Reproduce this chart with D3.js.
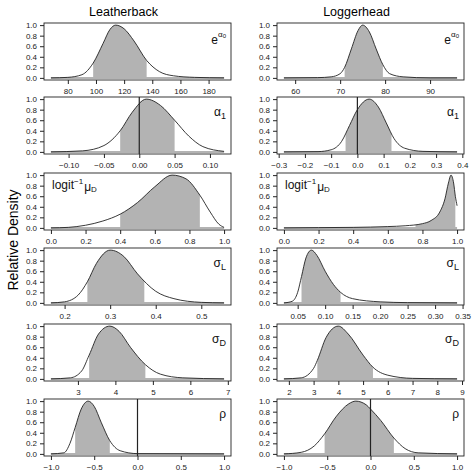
<!DOCTYPE html>
<html><head><meta charset="utf-8">
<script src="https://cdn.jsdelivr.net/npm/d3@7"></script>
<style>body{margin:0;background:#fff}text{font-family:"Liberation Sans",Arial,sans-serif}</style>
</head><body><div id="chart"></div>
<script>
const species = ["Leatherback", "Loggerhead"];
const paramLabels = ["e0", "a1", "mu", "sL", "sD", "rho"];

// density curves [x, relative density]
const lbE0 = [[68,0],[80,0.01],[90,0.06],[98,0.28],[105,0.65],[110,0.92],[114,1],[120,0.93],[127,0.7],[136,0.33],[145,0.12],[155,0.04],[170,0.01],[191,0]];
const lbA1 = [[-0.125,0],[-0.08,0.02],[-0.05,0.12],[-0.027,0.4],[-0.01,0.75],[0.01,1],[0.03,0.88],[0.05,0.6],[0.07,0.3],[0.09,0.1],[0.12,0.01]];
const lbMu = [[0,0],[0.1,0.01],[0.2,0.05],[0.3,0.13],[0.4,0.26],[0.5,0.48],[0.6,0.78],[0.7,1],[0.78,0.93],[0.86,0.62],[0.92,0.3],[0.97,0.07],[1,0.01]];
const lbSL = [[0.17,0],[0.2,0.02],[0.23,0.15],[0.25,0.4],[0.27,0.75],[0.3,1],[0.33,0.88],[0.36,0.55],[0.4,0.22],[0.44,0.08],[0.5,0.01],[0.55,0]];
const lbSD = [[2.28,0],[2.8,0.02],[3.1,0.15],[3.3,0.45],[3.55,0.85],[3.85,1],[4.1,0.9],[4.4,0.6],[4.8,0.27],[5.2,0.09],[5.8,0.02],[6.9,0]];
const lbRho = [[-1,0],[-0.85,0.02],[-0.78,0.2],[-0.72,0.5],[-0.65,0.85],[-0.57,1],[-0.5,0.9],[-0.42,0.6],[-0.32,0.25],[-0.2,0.06],[0,0.005],[1,0]];
const lhE0 = [[57.5,0],[65,0.005],[68,0.02],[70,0.08],[71,0.2],[72.5,0.55],[74,0.9],[75,1],[76.5,0.87],[78,0.55],[79.5,0.25],[81,0.08],[84,0.02],[90,0],[96,0]];
const lhA1 = [[-0.28,0],[-0.15,0.005],[-0.1,0.04],[-0.06,0.2],[-0.03,0.5],[0,0.8],[0.045,1],[0.08,0.85],[0.11,0.55],[0.14,0.25],[0.18,0.07],[0.25,0.01],[0.38,0]];
const lhMu = [[0,0],[0.2,0.005],[0.4,0.01],[0.6,0.025],[0.7,0.04],[0.8,0.08],[0.85,0.14],[0.9,0.3],[0.93,0.55],[0.95,0.85],[0.965,1],[0.98,0.85],[0.99,0.6],[1,0.42]];
const lhSL = [[0.025,0],[0.04,0.03],[0.05,0.2],[0.057,0.5],[0.065,0.85],[0.075,1],[0.085,0.9],[0.1,0.6],[0.115,0.35],[0.128,0.2],[0.15,0.08],[0.2,0.02],[0.25,0.005],[0.34,0]];
const lhSD = [[1.8,0],[2.5,0.02],[3,0.2],[3.15,0.35],[3.5,0.78],[4,1],[4.4,0.85],[5,0.45],[5.4,0.22],[6,0.07],[7,0.01],[8.8,0]];
const lhRho = [[-1,0],[-0.8,0.03],[-0.65,0.15],[-0.53,0.38],[-0.4,0.7],[-0.25,0.95],[-0.17,1],[-0.05,0.93],[0,0.85],[0.12,0.63],[0.27,0.3],[0.4,0.1],[0.55,0.02],[1,0]];

// shaded credible intervals
const lbIntervals = [[98,136],[-0.027,0.05],[0.4,0.86],[0.25,0.375],[3.3,4.8],[-0.72,-0.32]];
const lhIntervals = [[71,79.5],[-0.045,0.13],[0.76,0.99],[0.057,0.128],[3.15,5.4],[-0.53,0.27]];

// x ticks
const lbTicks = [[80,100,120,140,160,180],[-0.10,-0.05,0,0.05,0.10],[0,0.2,0.4,0.6,0.8,1],[0.2,0.3,0.4,0.5],[3,4,5,6,7],[-1,-0.5,0,0.5,1]];
const lhTicks = [[60,70,80,90],[-0.3,-0.2,-0.1,0,0.1,0.2,0.3,0.4],[0,0.2,0.4,0.6,0.8,1],[0.05,0.1,0.15,0.2,0.25,0.3,0.35],[2,3,4,5,6,7,8,9],[-1,-0.5,0,0.5,1]];
const tickFormats = [[d3.format("d"),d3.format(".2f"),d3.format(".1f"),d3.format(".1f"),d3.format("d"),d3.format(".1f")],
                     [d3.format("d"),d3.format(".1f"),d3.format(".1f"),d3.format(".2f"),d3.format("d"),d3.format(".1f")]];
const zeroLine = [false,true,false,false,false,true];
const yTicks = [0,0.2,0.4,0.6,0.8,1];

const curves = [[lbE0,lbA1,lbMu,lbSL,lbSD,lbRho],[lhE0,lhA1,lhMu,lhSL,lhSD,lhRho]];
const intervals = [lbIntervals, lhIntervals];
const ticks = [lbTicks, lhTicks];

const svg = d3.select("#chart").append("svg").attr("width",474).attr("height",474);
const colX = [44, 277], colW = [187, 187];
const rowY = [23, 97, 173, 248, 324, 399], rowH = 57;

svg.append("text").attr("transform","translate(18,240) rotate(-90)")
  .attr("text-anchor","middle").attr("font-size",14).text("Relative Density");

species.forEach((sp, c) => {
  svg.append("text").attr("x", colX[c]+colW[c]/2 - 14).attr("y", 16)
    .attr("text-anchor","middle").attr("font-size",12.5).text(sp);

  curves[c].forEach((data, r) => {
    const g = svg.append("g").attr("transform", `translate(${colX[c]},${rowY[r]})`);
    const ext = d3.extent(data, d => d[0]);
    const pad = (ext[1]-ext[0])*0.04;
    const x = d3.scaleLinear().domain([ext[0]-pad, ext[1]+pad]).range([0, colW[c]]);
    const y = d3.scaleLinear().domain([-0.04, 1.04]).range([rowH, 0]);
    const id = `clip${c}${r}`;
    const iv = intervals[c][r];
    g.append("clipPath").attr("id", id).append("rect")
      .attr("x", x(iv[0])).attr("width", x(iv[1])-x(iv[0])).attr("y",0).attr("height",rowH);
    const area = d3.area().x(d=>x(d[0])).y0(y(0)).y1(d=>y(d[1])).curve(d3.curveMonotoneX);
    const line = d3.line().x(d=>x(d[0])).y(d=>y(d[1])).curve(d3.curveMonotoneX);
    g.append("path").datum(data).attr("d", area).attr("fill","#b3b3b3").attr("clip-path",`url(#${id})`);
    g.append("line").attr("x1",x(ext[0])).attr("x2",x(ext[1])).attr("y1",y(0)).attr("y2",y(0))
      .attr("stroke","#b3b3b3").attr("stroke-width",2);
    g.append("path").datum(data).attr("d", line).attr("fill","none").attr("stroke","#222").attr("stroke-width",0.9);
    if (zeroLine[r]) g.append("line").attr("x1",x(0)).attr("x2",x(0)).attr("y1",0).attr("y2",rowH)
      .attr("stroke","#222").attr("stroke-width",1.2);
    g.append("rect").attr("width",colW[c]).attr("height",rowH).attr("fill","none").attr("stroke","#222").attr("stroke-width",0.9);

    const xa = g.append("g").attr("transform",`translate(0,${rowH})`)
      .call(d3.axisBottom(x).tickValues(ticks[c][r]).tickFormat(tickFormats[c][r]).tickSize(4).tickSizeOuter(0).tickPadding(4));
    const ya = g.append("g")
      .call(d3.axisLeft(y).tickValues(yTicks).tickFormat(d3.format(".1f")).tickSize(4).tickSizeOuter(0).tickPadding(3));
    [xa, ya].forEach(a => {
      a.select(".domain").remove();
      a.selectAll("text").attr("font-size",8).attr("fill","#222").style("font-family","Liberation Sans, Arial");
      a.selectAll("line").attr("stroke","#222");
    });

    // parameter label
    const lab = g.append("text").attr("font-size",12).attr("fill","#111");
    const key = paramLabels[r];
    if (key === "mu") {
      lab.attr("x",8).attr("y",16);
      lab.append("tspan").text("logit");
      lab.append("tspan").attr("font-size",8).attr("dy",-5).text("−1");
      lab.append("tspan").attr("dy",7).attr("dx",1).text("μ");
      lab.append("tspan").attr("font-size",8).attr("dy",1).text("D");
    } else {
      lab.attr("x",colW[c]-5).attr("y",19).attr("text-anchor","end");
      if (key === "e0") {
        lab.attr("y",21);
        lab.append("tspan").text("e");
        lab.append("tspan").attr("font-size",8).attr("dy",-7).text("α");
        lab.append("tspan").attr("font-size",6).attr("dy",1).text("0");
      } else if (key === "a1") {
        lab.append("tspan").text("α");
        lab.append("tspan").attr("font-size",9).attr("dy",3).text("1");
      } else if (key === "sL" || key === "sD") {
        lab.append("tspan").text("σ");
        lab.append("tspan").attr("font-size",9).attr("dy",3).text(key === "sL" ? "L" : "D");
      } else {
        lab.text("ρ");
      }
    }
  });
});
</script></body></html>
